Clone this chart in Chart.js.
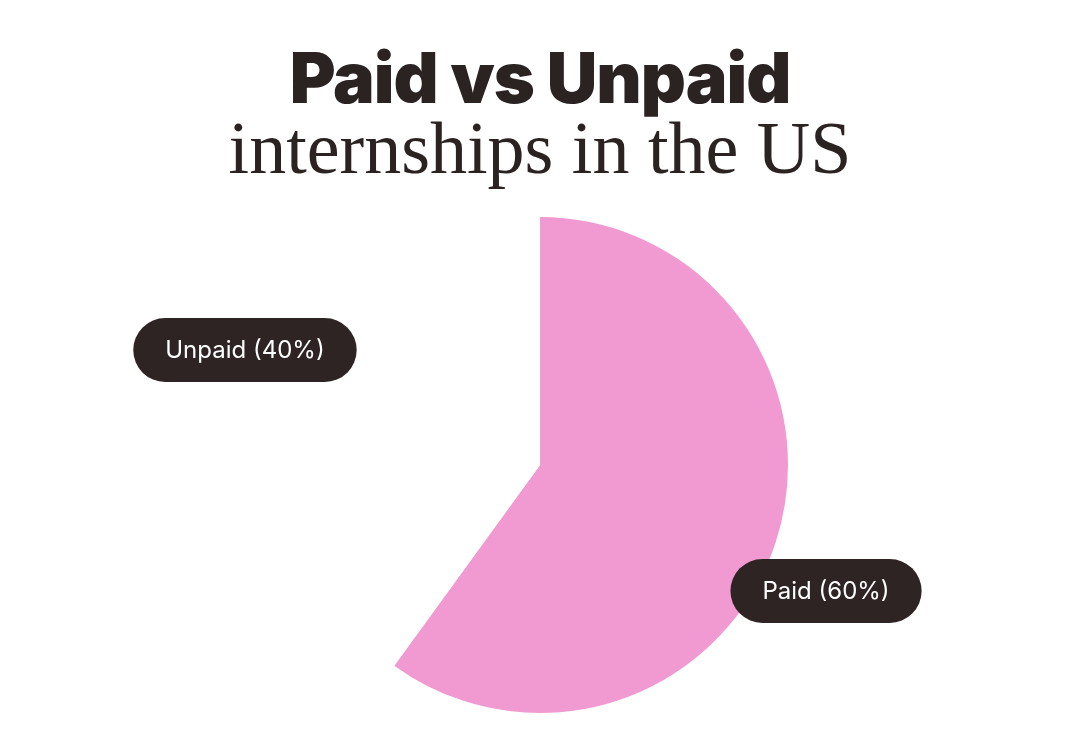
<!DOCTYPE html>
<html><head><meta charset="utf-8">
<script src="https://cdn.jsdelivr.net/npm/chart.js@4/dist/chart.umd.min.js"></script>
<style>
html,body{margin:0;padding:0;background:#fff;width:1080px;height:743px;overflow:hidden}
#t1{position:absolute;top:38px;left:0;width:1080px;text-align:center;font-family:Inter,sans-serif;font-weight:900;font-size:70px;color:#2b2222;letter-spacing:-1px;line-height:80px}
#t2{position:absolute;top:108px;left:0;width:1080px;text-align:center;font-family:"Liberation Serif",serif;font-size:74px;color:#2b2222;line-height:80px}
#c{position:absolute;top:0;left:0}
</style></head><body>
<div id="t1">Paid vs Unpaid</div>
<div id="t2">internships in the US</div>
<canvas id="c" width="1080" height="743"></canvas>
<script>
const categories=["Paid","Unpaid"];
const values=[60,40];
const labels=["Paid (60%)","Unpaid (40%)"];
const colors=["#F19AD2","#FFFFFF"];
const pills={id:'pills',afterDraw(chart){
  const ctx=chart.ctx;const meta=chart.getDatasetMeta(0);
  const offs=[[3,34],[-12,-23]];
  meta.data.forEach((a,i)=>{
    const mid=(a.startAngle+a.endAngle)/2;const r=a.outerRadius*1.2;
    const cx=a.x+Math.cos(mid)*r+offs[i][0], cy=a.y+Math.sin(mid)*r+offs[i][1];
    ctx.font='24px Inter, sans-serif';
    const w=ctx.measureText(labels[i]).width+64,h=64;
    ctx.fillStyle='#2e2424';ctx.beginPath();ctx.roundRect(cx-w/2,cy-h/2,w,h,32);ctx.fill();
    ctx.fillStyle='#fff';ctx.textAlign='center';ctx.textBaseline='middle';ctx.fillText(labels[i],cx,cy+1);
  });
}};
new Chart(document.getElementById('c'),{type:'pie',
 data:{labels:categories,datasets:[{data:values,backgroundColor:colors,borderWidth:0}]},
 options:{responsive:false,animation:false,layout:{padding:{top:217,bottom:30}},
  plugins:{legend:{display:false},tooltip:{enabled:false}}},
 plugins:[pills]});
</script></body></html>
